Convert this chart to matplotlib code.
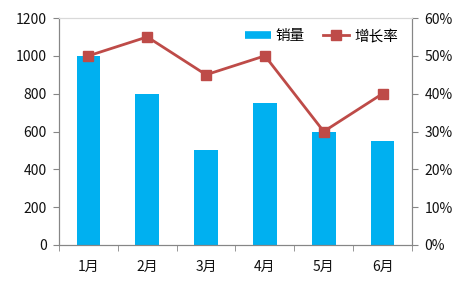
# sales and growth rate, bar + line with twin axes
import matplotlib.pyplot as plt
from matplotlib.lines import Line2D
import numpy as np

plt.rcParams['font.family'] = ['Noto Sans CJK SC', 'DejaVu Sans']

months = ['1月', '2月', '3月', '4月', '5月', '6月']
sales = [1000, 800, 500, 750, 600, 550]
growth = [50, 55, 45, 50, 30, 40]  # percent

bar_color = '#00B0F0'
line_color = '#BE4B48'
spine_color = '#868686'

fig = plt.figure(figsize=(4.74, 2.85), dpi=100)
ax = fig.add_axes([59 / 474, 1 - 245 / 285, (412 - 59) / 474, (245 - 18) / 285])
ax2 = ax.twinx()

x = np.arange(len(months))
ax.bar(x, sales, width=0.4, color=bar_color, zorder=2)
line, = ax2.plot(x, growth, color=line_color, lw=2, marker='s', ms=6.5,
                 zorder=3)

ax.set_xlim(-0.5, len(months) - 0.5)
ax.set_ylim(0, 1200)
ax.set_yticks(range(0, 1201, 200))
ax2.set_ylim(0, 60)
ax2.set_yticks(range(0, 61, 10))
ax2.set_yticklabels([f'{v}%' for v in range(0, 61, 10)])

ax.set_xticks(x)
ax.set_xticklabels(months)
ax.set_xticks(np.arange(-0.5, len(months)), minor=True)
ax.tick_params(axis='x', which='major', length=0, pad=11)
ax.tick_params(axis='x', which='minor', length=4, color=spine_color)
ax.tick_params(axis='y', length=4, color=spine_color, pad=5)
ax2.tick_params(axis='y', length=4, color=spine_color, pad=5)

for a in (ax, ax2):
    for side in ('left', 'right', 'bottom'):
        a.spines[side].set_color(spine_color)
    a.spines['top'].set_color('#D9D9D9')
    a.tick_params(labelsize=10, labelcolor='#111111')

ax.set_zorder(ax2.get_zorder() - 1)
ax.patch.set_visible(False)

bar_handle = Line2D([], [], color=bar_color, lw=5.5, solid_capstyle='butt')
ax2.legend([bar_handle, line], ['销量', '增长率'], loc='upper right', ncol=2,
           frameon=False, fontsize=10.5, handlelength=1.8, handletextpad=0.35,
           columnspacing=1.2, bbox_to_anchor=(0.985, 0.99), borderaxespad=0.2)

fig.savefig('out.png', dpi=100)
